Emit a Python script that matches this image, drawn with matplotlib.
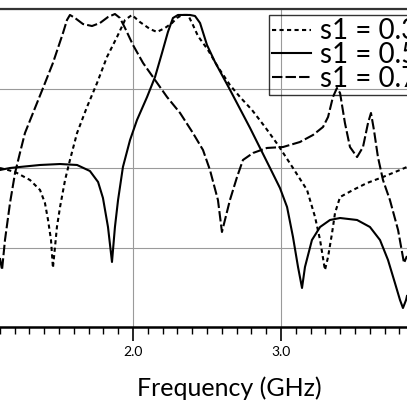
import matplotlib
matplotlib.use("Agg")
import matplotlib.pyplot as plt
from matplotlib.ticker import MultipleLocator, FixedLocator

plt.rcParams["font.family"] = ["Lato", "DejaVu Sans"]

# s1 = 0.3 (short dash)
f_03 = [1.101, 1.155, 1.203, 1.304, 1.372, 1.405, 1.426, 1.446, 1.459, 1.473,
        1.486, 1.507, 1.541, 1.574, 1.622, 1.689, 1.757, 1.824, 1.892, 1.946,
        1.993, 2.047, 2.115, 2.162, 2.216, 2.264, 2.297, 2.331, 2.372, 2.405,
        2.439, 2.507, 2.574, 2.655, 2.723, 2.804, 2.892, 2.980, 3.081, 3.176,
        3.230, 3.264, 3.297, 3.318, 3.345, 3.365, 3.399, 3.486, 3.581, 3.689,
        3.804, 3.851]
db_03 = [-20.00, -20.25, -20.50, -21.51, -22.77, -24.40, -26.54, -29.06, -32.58, -29.94,
         -27.42, -24.91, -21.51, -18.99, -15.60, -12.33, -9.31, -6.04, -3.52, -1.38,
         -0.75, -1.64, -2.52, -2.89, -2.39, -1.76, -1.13, -0.75, -0.75, -2.01,
         -3.40, -5.16, -7.30, -9.56, -11.07, -12.70, -14.84, -17.11, -20.00, -22.77,
         -26.16, -29.06, -32.83, -31.19, -28.18, -25.66, -23.65, -22.77, -21.89, -21.13,
         -20.25, -19.87]

# s1 = 0.5 (solid)
f_05 = [1.101, 1.169, 1.236, 1.372, 1.507, 1.622, 1.709, 1.764, 1.797, 1.831,
        1.858, 1.878, 1.899, 1.932, 1.980, 2.027, 2.095, 2.149, 2.196, 2.236,
        2.270, 2.304, 2.385, 2.419, 2.453, 2.500, 2.554, 2.649, 2.791, 2.926,
        2.993, 3.041, 3.081, 3.115, 3.142, 3.162, 3.209, 3.264, 3.331, 3.399,
        3.514, 3.601, 3.669, 3.723, 3.770, 3.804, 3.824, 3.845, 3.851]
db_05 = [-20.25, -20.00, -19.87, -19.62, -19.50, -19.62, -20.38, -21.76, -23.77, -27.42,
         -31.82, -27.42, -24.03, -19.87, -16.48, -13.96, -11.07, -8.55, -5.53, -2.89,
         -1.13, -0.75, -0.75, -0.88, -1.76, -4.53, -6.67, -9.94, -14.97, -20.00,
         -22.52, -24.91, -28.68, -32.45, -35.09, -32.45, -29.06, -27.42, -26.54, -26.29,
         -26.54, -27.42, -29.06, -31.57, -34.47, -36.60, -37.61, -36.60, -36.10]

# s1 = 0.7 (long dash)
f_07 = [1.101, 1.115, 1.135, 1.169, 1.203, 1.236, 1.270, 1.392, 1.459, 1.527,
        1.554, 1.574, 1.608, 1.662, 1.723, 1.777, 1.831, 1.878, 1.912, 1.946,
        2.000, 2.068, 2.149, 2.230, 2.318, 2.405, 2.473, 2.520, 2.574, 2.601,
        2.655, 2.703, 2.743, 2.811, 2.905, 3.014, 3.128, 3.216, 3.284, 3.318,
        3.351, 3.378, 3.399, 3.432, 3.466, 3.514, 3.554, 3.588, 3.608, 3.628,
        3.655, 3.689, 3.736, 3.791, 3.831, 3.851]
db_07 = [-31.32, -32.83, -29.06, -24.40, -20.63, -18.11, -15.60, -9.94, -6.79, -3.02,
         -1.38, -0.75, -1.13, -1.89, -2.14, -1.76, -1.01, -0.63, -1.13, -2.39,
         -4.53, -6.79, -8.93, -11.07, -13.08, -15.60, -17.74, -20.25, -24.03, -28.05,
         -24.03, -21.13, -18.99, -18.11, -17.48, -17.36, -16.73, -15.85, -14.84, -13.58,
         -11.07, -9.94, -10.57, -14.34, -17.36, -18.62, -17.36, -14.34, -13.08, -15.22,
         -18.62, -21.51, -24.03, -27.80, -31.95, -31.07]

labels = ["s1 = 0.3", "s1 = 0.5", "s1 = 0.7"]
xticks = [2.0, 3.0]

W = 407
fig = plt.figure(figsize=(4.07, 4.07), dpi=100)
fig.patch.set_facecolor("white")
# axes run past the left and right edges of the picture (cropped figure)
ax = fig.add_axes([-15 / W, 1 - 327 / W, 444 / W, 318 / W])

ax.plot(f_03, db_03, color="black", lw=1.5, ls=(0, (2, 1.6)), label=labels[0])
ax.plot(f_05, db_05, color="black", lw=1.5, ls="-", label=labels[1])
ax.plot(f_07, db_07, color="black", lw=1.5, ls=(0, (5, 1.5)), label=labels[2])

ax.set_xlim(1.0, 4.0)
ax.set_ylim(-40, 0)
ax.xaxis.set_major_locator(FixedLocator(xticks))
ax.set_xticklabels([f"{t:.1f}" for t in xticks])
ax.xaxis.set_minor_locator(MultipleLocator(0.1))
ax.yaxis.set_major_locator(MultipleLocator(10))
ax.set_yticklabels([])
ax.tick_params(axis="x", which="major", direction="out", length=10, width=1.2,
               labelsize=10, pad=4, color="black")
ax.tick_params(axis="x", which="minor", direction="out", length=5, width=1.0,
               color="black")
ax.tick_params(axis="y", length=0)
ax.grid(True, which="major", color="#9a9a9a", lw=0.8)
ax.set_axisbelow(True)

for s in ("left", "right"):
    ax.spines[s].set_visible(False)
ax.spines["top"].set_linewidth(1.6)
ax.spines["top"].set_color("#333333")
ax.spines["bottom"].set_linewidth(1.8)

ax.set_xlabel("Frequency (GHz)", fontsize=18)
ax.xaxis.set_label_coords((229 + 15) / 444, (327 - 376) / 318)

leg = ax.legend(loc="upper left", bbox_to_anchor=(269 / W, 1 - 15 / W),
                bbox_transform=fig.transFigure, borderaxespad=0,
                fontsize=20, frameon=True, fancybox=False, labelspacing=-0.08,
                borderpad=0.12, handlelength=1.4, handletextpad=0.3)
leg.get_frame().set_edgecolor("black")
leg.get_frame().set_linewidth(1.0)
leg.get_frame().set_facecolor("none")

fig.savefig("out.png", dpi=100)
